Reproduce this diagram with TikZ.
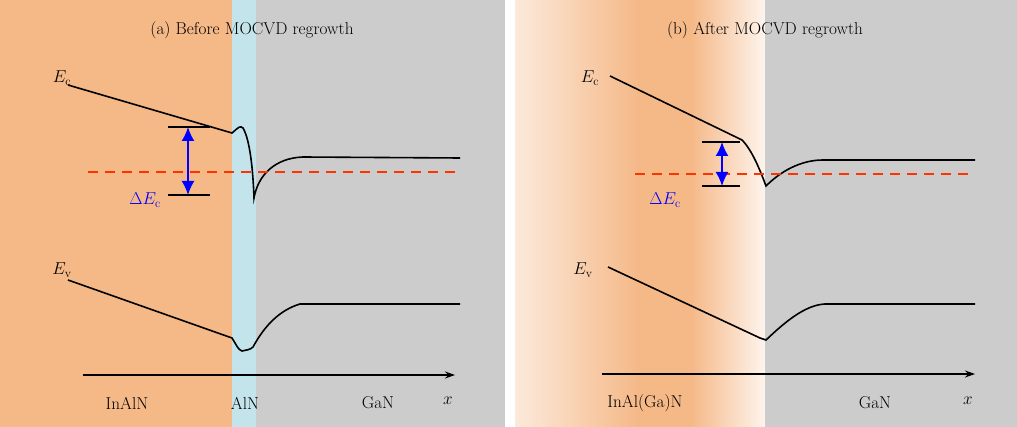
\documentclass[tikz,border=0pt]{standalone}
\usepackage{fix-cm}
\usetikzlibrary{arrows.meta}
\definecolor{org}{HTML}{F5B887}
\definecolor{gry}{HTML}{CCCCCC}
\definecolor{lbl}{HTML}{C4E4EC}
\definecolor{fer}{HTML}{FF3300}
\begin{document}
\begin{tikzpicture}[x=1pt,y=-1pt,
  band/.style={line width=1.6pt},
  lab/.style={font=\fontsize{17.2}{20}\selectfont},
  bar/.style={line width=1.6pt},
  darr/.style={blue,line width=1.8pt,{Latex[length=14pt,width=13pt]}-{Latex[length=14pt,width=13pt]}},
  fermi/.style={fer,line width=1.4pt,dash pattern=on 10pt off 7pt},
  axis/.style={line width=1.4pt,-{Stealth[length=10pt,width=7pt]}}]
\useasboundingbox (0,0) rectangle (1017,427);
% panel a
\fill[org] (0,0) rectangle (232,427);
\fill[lbl] (232,0) rectangle (256,427);
\fill[gry] (256,0) rectangle (505,427);
% panel b
\shade[left color=org!30,right color=org] (515,0) rectangle (640,427);
\fill[org] (640,0) rectangle (690,427);
\shade[left color=org,right color=org!15] (690,0) rectangle (765,427);
\fill[gry] (765,0) rectangle (1017,427);
% titles
\node[lab] (ta) at (252,30) {(a) Before MOCVD regrowth};
\node[lab] (tb) at (765,30) {(b) After MOCVD regrowth};
% panel a bands
\node[lab] (eca) at (62,78) {$E_{\mathrm c}$};
\node[lab] (eva) at (62,270) {$E_{\mathrm v}$};
\draw[band] (68,85) -- (232,133) .. controls (238,128) and (240,125) .. (243,128)
  .. controls (250,140) and (253,170) .. (254,198)
  .. controls (258,175) and (275,158) .. (303,157) -- (460,158);
\draw[band] (68,280) -- (232,338) .. controls (236,344) and (238,350) .. (242,351)
  .. controls (246,350) and (250,350) .. (253,347)
  .. controls (265,325) and (280,310) .. (300,304) -- (460,304);
\draw[fermi] (88,172) -- (455,172);
\coordinate (a1) at (188,127); \coordinate (a2) at (188,195);
\draw[bar] (168,127) -- (210,127);
\draw[bar] (168,195) -- (210,195);
\draw[darr] (a1) -- (a2);
\node[lab,blue] (dea) at (145,200) {$\Delta E_{\mathrm c}$};
\coordinate (xa0) at (83,375); \coordinate (xa1) at (455,375);
\draw[axis] (xa0) -- (xa1);
\node[lab] (l1) at (127,403) {InAlN};
\node[lab] (l2) at (245,403) {AlN};
\node[lab] (l3) at (378,403) {GaN};
\node[lab] (l4) at (448,401) {$x$};
% panel b bands
\node[lab] (ecb) at (590,78) {$E_{\mathrm c}$};
\node[lab] (evb) at (583,270) {$E_{\mathrm v}$};
\draw[band] (610,76) -- (742,140) .. controls (752,150) and (760,170) .. (766,186)
  .. controls (780,172) and (800,160) .. (823,160) -- (975,160);
\draw[band] (608,267) -- (760,338) -- (766,340)
  .. controls (785,322) and (805,305) .. (825,304) -- (975,304);
\draw[fermi] (635,174) -- (975,174);
\coordinate (b1) at (722,142); \coordinate (b2) at (722,186);
\draw[bar] (702,142) -- (740,142);
\draw[bar] (702,186) -- (740,186);
\draw[darr] (b1) -- (b2);
\node[lab,blue] (deb) at (665,200) {$\Delta E_{\mathrm c}$};
\coordinate (xb0) at (602,374); \coordinate (xb1) at (975,374);
\draw[axis] (xb0) -- (xb1);
\node[lab] (m1) at (645,403) {InAl(Ga)N};
\node[lab] (m2) at (875,403) {GaN};
\node[lab] (m3) at (968,401) {$x$};
\end{tikzpicture}
\end{document}
